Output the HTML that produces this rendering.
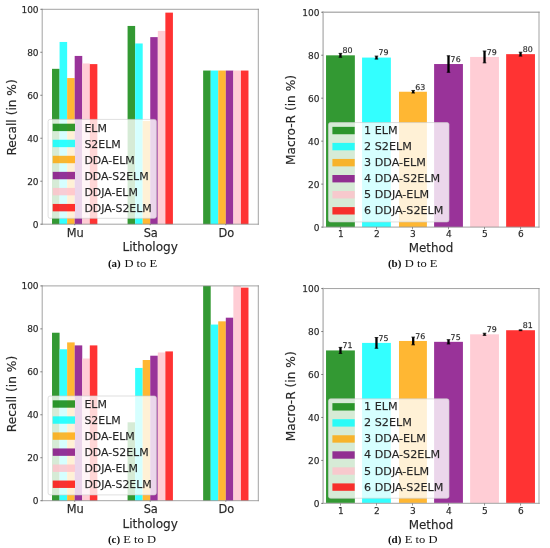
<!DOCTYPE html>
<html><head><meta charset="utf-8"><title>Figure</title>
<style>
html,body{margin:0;padding:0;background:#fff;}
svg{display:block;font-family:"DejaVu Sans","Liberation Sans",sans-serif;fill:#262626;}
svg text{stroke:#262626;stroke-width:0.25px;stroke-opacity:0.6;}
svg text.cap{stroke:none;fill:#111;}
</style></head><body>
<svg width="550" height="548" viewBox="0 0 550 548">
<rect width="550" height="548" fill="#fff"/>
<rect x="52.02" y="68.83" width="7.56" height="155.37" fill="#339933"/>
<rect x="59.58" y="41.96" width="7.56" height="182.24" fill="#33ffff"/>
<rect x="67.13" y="78.07" width="7.56" height="146.13" fill="#ffb733"/>
<rect x="74.69" y="55.93" width="7.56" height="168.27" fill="#993399"/>
<rect x="82.25" y="63.45" width="7.56" height="160.75" fill="#ffcdd5"/>
<rect x="89.8" y="64.1" width="7.56" height="160.1" fill="#ff3333"/>
<rect x="127.58" y="25.95" width="7.56" height="198.25" fill="#339933"/>
<rect x="135.14" y="43.47" width="7.56" height="180.73" fill="#33ffff"/>
<rect x="142.69" y="121.05" width="7.56" height="103.15" fill="#ffb733"/>
<rect x="150.25" y="37.13" width="7.56" height="187.07" fill="#993399"/>
<rect x="157.81" y="30.9" width="7.56" height="193.3" fill="#ffcdd5"/>
<rect x="165.36" y="12.63" width="7.56" height="211.57" fill="#ff3333"/>
<rect x="203.14" y="70.55" width="7.56" height="153.65" fill="#339933"/>
<rect x="210.7" y="70.55" width="7.56" height="153.65" fill="#33ffff"/>
<rect x="218.25" y="70.55" width="7.56" height="153.65" fill="#ffb733"/>
<rect x="225.81" y="70.55" width="7.56" height="153.65" fill="#993399"/>
<rect x="233.37" y="70.55" width="7.56" height="153.65" fill="#ffcdd5"/>
<rect x="240.92" y="70.55" width="7.56" height="153.65" fill="#ff3333"/>
<rect x="48.1" y="119.4" width="108.3" height="98.9" rx="2" ry="2" fill="#fff" fill-opacity="0.8" stroke="#ccc" stroke-opacity="0.8" stroke-width="0.8"/>
<rect x="52.7" y="123.7" width="22.3" height="7.4" fill="#008000" fill-opacity="0.8"/>
<text x="84.4" y="131.6" font-size="10.95">ELM</text>
<rect x="52.7" y="139.75" width="22.3" height="7.4" fill="#00ffff" fill-opacity="0.8"/>
<text x="84.4" y="147.65" font-size="10.95">S2ELM</text>
<rect x="52.7" y="155.8" width="22.3" height="7.4" fill="#ffa500" fill-opacity="0.8"/>
<text x="84.4" y="163.7" font-size="10.95">DDA-ELM</text>
<rect x="52.7" y="171.85" width="22.3" height="7.4" fill="#800080" fill-opacity="0.8"/>
<text x="84.4" y="179.75" font-size="10.95">DDA-S2ELM</text>
<rect x="52.7" y="187.9" width="22.3" height="7.4" fill="#ffc0cb" fill-opacity="0.8"/>
<text x="84.4" y="195.8" font-size="10.95">DDJA-ELM</text>
<rect x="52.7" y="203.95" width="22.3" height="7.4" fill="#ff0000" fill-opacity="0.8"/>
<text x="84.4" y="211.85" font-size="10.95">DDJA-S2ELM</text>
<line x1="42.2" y1="9.3" x2="258.3" y2="9.3" stroke="#8c8c8c" stroke-width="0.8" stroke-linecap="square"/>
<line x1="42.2" y1="224.2" x2="258.3" y2="224.2" stroke="#8c8c8c" stroke-width="0.8" stroke-linecap="square"/>
<line x1="42.2" y1="9.3" x2="42.2" y2="224.2" stroke="#8c8c8c" stroke-width="0.8" stroke-linecap="square"/>
<line x1="258.3" y1="9.3" x2="258.3" y2="224.2" stroke="#8c8c8c" stroke-width="0.8" stroke-linecap="square"/>
<line x1="40.3" x2="42.2" y1="224.2" y2="224.2" stroke="#555" stroke-width="0.7"/>
<text x="38.6" y="227.73" font-size="9.0" text-anchor="end">0</text>
<line x1="40.3" x2="42.2" y1="181.22" y2="181.22" stroke="#555" stroke-width="0.7"/>
<text x="38.6" y="184.75" font-size="9.0" text-anchor="end">20</text>
<line x1="40.3" x2="42.2" y1="138.24" y2="138.24" stroke="#555" stroke-width="0.7"/>
<text x="38.6" y="141.78" font-size="9.0" text-anchor="end">40</text>
<line x1="40.3" x2="42.2" y1="95.26" y2="95.26" stroke="#555" stroke-width="0.7"/>
<text x="38.6" y="98.8" font-size="9.0" text-anchor="end">60</text>
<line x1="40.3" x2="42.2" y1="52.28" y2="52.28" stroke="#555" stroke-width="0.7"/>
<text x="38.6" y="55.81" font-size="9.0" text-anchor="end">80</text>
<line x1="40.3" x2="42.2" y1="9.3" y2="9.3" stroke="#555" stroke-width="0.7"/>
<text x="38.6" y="12.84" font-size="9.0" text-anchor="end">100</text>
<line x1="74.69" x2="74.69" y1="224.2" y2="225.2" stroke="#555" stroke-width="0.7"/>
<text x="75.19" y="236.5" font-size="11.4" text-anchor="middle">Mu</text>
<line x1="150.25" x2="150.25" y1="224.2" y2="225.2" stroke="#555" stroke-width="0.7"/>
<text x="150.75" y="236.5" font-size="11.4" text-anchor="middle">Sa</text>
<line x1="225.81" x2="225.81" y1="224.2" y2="225.2" stroke="#555" stroke-width="0.7"/>
<text x="226.31" y="236.5" font-size="11.4" text-anchor="middle">Do</text>
<text x="150.2" y="251.3" font-size="12.1" text-anchor="middle">Lithology</text>
<text transform="translate(15.9 117.45) rotate(-90)" font-size="12.2" text-anchor="middle">Recall (in %)</text>
<text x="107.9" y="266.9" font-size="11.0" font-family="'Liberation Serif','DejaVu Serif',serif" class="cap" font-weight="bold">(a)</text>
<text transform="translate(124.4 266.9) scale(1.14 1)" font-size="11.0" font-family="'Liberation Serif','DejaVu Serif',serif" class="cap">D to E</text>
<rect x="326.04" y="55.33" width="28.82" height="171.77" fill="#339933"/>
<rect x="362.06" y="57.58" width="28.82" height="169.52" fill="#33ffff"/>
<rect x="398.98" y="91.74" width="27.92" height="135.36" fill="#ffb733"/>
<rect x="434.1" y="64.03" width="28.82" height="163.07" fill="#993399"/>
<rect x="470.12" y="56.94" width="28.82" height="170.16" fill="#ffcdd5"/>
<rect x="506.14" y="54.15" width="28.82" height="172.95" fill="#ff3333"/>
<line x1="340.45" x2="340.45" y1="53.39" y2="57.26" stroke="#000" stroke-width="2.3"/>
<line x1="338.65" x2="342.25" y1="53.39" y2="53.39" stroke="#000" stroke-width="0.8"/>
<line x1="338.65" x2="342.25" y1="57.26" y2="57.26" stroke="#000" stroke-width="0.8"/>
<text x="342.55" y="53.13" font-size="7.9">80</text>
<line x1="376.47" x2="376.47" y1="56.08" y2="59.09" stroke="#000" stroke-width="2.3"/>
<line x1="374.67" x2="378.27" y1="56.08" y2="56.08" stroke="#000" stroke-width="0.8"/>
<line x1="374.67" x2="378.27" y1="59.09" y2="59.09" stroke="#000" stroke-width="0.8"/>
<text x="378.57" y="55.38" font-size="7.9">79</text>
<line x1="413.19" x2="413.19" y1="90.46" y2="93.03" stroke="#000" stroke-width="2.3"/>
<line x1="411.39" x2="414.99" y1="90.46" y2="90.46" stroke="#000" stroke-width="0.8"/>
<line x1="411.39" x2="414.99" y1="93.03" y2="93.03" stroke="#000" stroke-width="0.8"/>
<text x="415.29" y="89.54" font-size="7.9">63</text>
<line x1="448.51" x2="448.51" y1="55.76" y2="72.3" stroke="#000" stroke-width="2.3"/>
<line x1="446.71" x2="450.31" y1="55.76" y2="55.76" stroke="#000" stroke-width="0.8"/>
<line x1="446.71" x2="450.31" y1="72.3" y2="72.3" stroke="#000" stroke-width="0.8"/>
<text x="450.61" y="61.83" font-size="7.9">76</text>
<line x1="484.53" x2="484.53" y1="51.03" y2="62.85" stroke="#000" stroke-width="2.3"/>
<line x1="482.73" x2="486.33" y1="51.03" y2="51.03" stroke="#000" stroke-width="0.8"/>
<line x1="482.73" x2="486.33" y1="62.85" y2="62.85" stroke="#000" stroke-width="0.8"/>
<text x="486.63" y="54.74" font-size="7.9">79</text>
<line x1="520.55" x2="520.55" y1="52.21" y2="56.08" stroke="#000" stroke-width="2.3"/>
<line x1="518.75" x2="522.35" y1="52.21" y2="52.21" stroke="#000" stroke-width="0.8"/>
<line x1="518.75" x2="522.35" y1="56.08" y2="56.08" stroke="#000" stroke-width="0.8"/>
<text x="522.65" y="51.95" font-size="7.9">80</text>
<rect x="328.5" y="122.55" width="120.5" height="99.4" rx="2" ry="2" fill="#fff" fill-opacity="0.8" stroke="#ccc" stroke-opacity="0.8" stroke-width="0.8"/>
<rect x="332.4" y="126.85" width="22.3" height="7.4" fill="#008000" fill-opacity="0.8"/>
<text x="364.1" y="134.02" font-size="11.15">1 ELM</text>
<rect x="332.4" y="142.9" width="22.3" height="7.4" fill="#00ffff" fill-opacity="0.8"/>
<text x="364.1" y="150.07" font-size="11.15">2 S2ELM</text>
<rect x="332.4" y="158.95" width="22.3" height="7.4" fill="#ffa500" fill-opacity="0.8"/>
<text x="364.1" y="166.12" font-size="11.15">3 DDA-ELM</text>
<rect x="332.4" y="175" width="22.3" height="7.4" fill="#800080" fill-opacity="0.8"/>
<text x="364.1" y="182.17" font-size="11.15">4 DDA-S2ELM</text>
<rect x="332.4" y="191.05" width="22.3" height="7.4" fill="#ffc0cb" fill-opacity="0.8"/>
<text x="364.1" y="198.22" font-size="11.15">5 DDJA-ELM</text>
<rect x="332.4" y="207.1" width="22.3" height="7.4" fill="#ff0000" fill-opacity="0.8"/>
<text x="364.1" y="214.27" font-size="11.15">6 DDJA-S2ELM</text>
<line x1="323.1" y1="12.25" x2="539" y2="12.25" stroke="#b4b4b4" stroke-width="1.4" stroke-linecap="square"/>
<line x1="323.1" y1="227.1" x2="539" y2="227.1" stroke="#999" stroke-width="0.9" stroke-linecap="square"/>
<line x1="323.1" y1="12.25" x2="323.1" y2="227.1" stroke="#b4b4b4" stroke-width="1.4" stroke-linecap="square"/>
<line x1="539" y1="12.25" x2="539" y2="227.1" stroke="#999" stroke-width="0.9" stroke-linecap="square"/>
<line x1="321.2" x2="323.1" y1="227.1" y2="227.1" stroke="#555" stroke-width="0.7"/>
<text x="319.5" y="230.63" font-size="9.0" text-anchor="end">0</text>
<line x1="321.2" x2="323.1" y1="184.13" y2="184.13" stroke="#555" stroke-width="0.7"/>
<text x="319.5" y="187.66" font-size="9.0" text-anchor="end">20</text>
<line x1="321.2" x2="323.1" y1="141.16" y2="141.16" stroke="#555" stroke-width="0.7"/>
<text x="319.5" y="144.69" font-size="9.0" text-anchor="end">40</text>
<line x1="321.2" x2="323.1" y1="98.19" y2="98.19" stroke="#555" stroke-width="0.7"/>
<text x="319.5" y="101.72" font-size="9.0" text-anchor="end">60</text>
<line x1="321.2" x2="323.1" y1="55.22" y2="55.22" stroke="#555" stroke-width="0.7"/>
<text x="319.5" y="58.75" font-size="9.0" text-anchor="end">80</text>
<line x1="321.2" x2="323.1" y1="12.25" y2="12.25" stroke="#555" stroke-width="0.7"/>
<text x="319.5" y="15.79" font-size="9.0" text-anchor="end">100</text>
<line x1="340.45" x2="340.45" y1="227.1" y2="229.3" stroke="#666" stroke-width="0.7"/>
<text x="340.75" y="237.4" font-size="9.0" text-anchor="middle">1</text>
<line x1="376.47" x2="376.47" y1="227.1" y2="229.3" stroke="#666" stroke-width="0.7"/>
<text x="376.77" y="237.4" font-size="9.0" text-anchor="middle">2</text>
<line x1="412.49" x2="412.49" y1="227.1" y2="229.3" stroke="#666" stroke-width="0.7"/>
<text x="412.79" y="237.4" font-size="9.0" text-anchor="middle">3</text>
<line x1="448.51" x2="448.51" y1="227.1" y2="229.3" stroke="#666" stroke-width="0.7"/>
<text x="448.81" y="237.4" font-size="9.0" text-anchor="middle">4</text>
<line x1="484.53" x2="484.53" y1="227.1" y2="229.3" stroke="#666" stroke-width="0.7"/>
<text x="484.83" y="237.4" font-size="9.0" text-anchor="middle">5</text>
<line x1="520.55" x2="520.55" y1="227.1" y2="229.3" stroke="#666" stroke-width="0.7"/>
<text x="520.85" y="237.4" font-size="9.0" text-anchor="middle">6</text>
<text x="431" y="252.3" font-size="11.9" text-anchor="middle">Method</text>
<text transform="translate(295.4 119.97) rotate(-90)" font-size="12.2" text-anchor="middle">Macro-R (in %)</text>
<text x="387.9" y="266.9" font-size="11.0" font-family="'Liberation Serif','DejaVu Serif',serif" class="cap" font-weight="bold">(b)</text>
<text transform="translate(404.8 266.9) scale(1.14 1)" font-size="11.0" font-family="'Liberation Serif','DejaVu Serif',serif" class="cap">D to E</text>
<rect x="52.02" y="332.73" width="7.56" height="167.97" fill="#339933"/>
<rect x="59.58" y="349.27" width="7.56" height="151.43" fill="#33ffff"/>
<rect x="67.13" y="342.39" width="7.56" height="158.31" fill="#ffb733"/>
<rect x="74.69" y="345.4" width="7.56" height="155.3" fill="#993399"/>
<rect x="82.25" y="358.5" width="7.56" height="142.2" fill="#ffcdd5"/>
<rect x="89.8" y="345.4" width="7.56" height="155.3" fill="#ff3333"/>
<rect x="127.58" y="422.3" width="7.56" height="78.4" fill="#339933"/>
<rect x="135.14" y="367.95" width="7.56" height="132.75" fill="#33ffff"/>
<rect x="142.69" y="360.01" width="7.56" height="140.69" fill="#ffb733"/>
<rect x="150.25" y="355.71" width="7.56" height="144.99" fill="#993399"/>
<rect x="157.81" y="352.49" width="7.56" height="148.21" fill="#ffcdd5"/>
<rect x="165.36" y="351.41" width="7.56" height="149.29" fill="#ff3333"/>
<rect x="203.14" y="285.9" width="7.56" height="214.8" fill="#339933"/>
<rect x="210.7" y="324.56" width="7.56" height="176.14" fill="#33ffff"/>
<rect x="218.25" y="321.34" width="7.56" height="179.36" fill="#ffb733"/>
<rect x="225.81" y="317.69" width="7.56" height="183.01" fill="#993399"/>
<rect x="233.37" y="285.9" width="7.56" height="214.8" fill="#ffcdd5"/>
<rect x="240.92" y="287.62" width="7.56" height="213.08" fill="#ff3333"/>
<rect x="48.1" y="396" width="108.3" height="98.9" rx="2" ry="2" fill="#fff" fill-opacity="0.8" stroke="#ccc" stroke-opacity="0.8" stroke-width="0.8"/>
<rect x="52.7" y="400.3" width="22.3" height="7.4" fill="#008000" fill-opacity="0.8"/>
<text x="84.4" y="408.2" font-size="10.95">ELM</text>
<rect x="52.7" y="416.35" width="22.3" height="7.4" fill="#00ffff" fill-opacity="0.8"/>
<text x="84.4" y="424.25" font-size="10.95">S2ELM</text>
<rect x="52.7" y="432.4" width="22.3" height="7.4" fill="#ffa500" fill-opacity="0.8"/>
<text x="84.4" y="440.3" font-size="10.95">DDA-ELM</text>
<rect x="52.7" y="448.45" width="22.3" height="7.4" fill="#800080" fill-opacity="0.8"/>
<text x="84.4" y="456.35" font-size="10.95">DDA-S2ELM</text>
<rect x="52.7" y="464.5" width="22.3" height="7.4" fill="#ffc0cb" fill-opacity="0.8"/>
<text x="84.4" y="472.4" font-size="10.95">DDJA-ELM</text>
<rect x="52.7" y="480.55" width="22.3" height="7.4" fill="#ff0000" fill-opacity="0.8"/>
<text x="84.4" y="488.45" font-size="10.95">DDJA-S2ELM</text>
<line x1="42.2" y1="285.9" x2="258.3" y2="285.9" stroke="#8c8c8c" stroke-width="0.8" stroke-linecap="square"/>
<line x1="42.2" y1="500.7" x2="258.3" y2="500.7" stroke="#8c8c8c" stroke-width="0.8" stroke-linecap="square"/>
<line x1="42.2" y1="285.9" x2="42.2" y2="500.7" stroke="#8c8c8c" stroke-width="0.8" stroke-linecap="square"/>
<line x1="258.3" y1="285.9" x2="258.3" y2="500.7" stroke="#8c8c8c" stroke-width="0.8" stroke-linecap="square"/>
<line x1="40.3" x2="42.2" y1="500.7" y2="500.7" stroke="#555" stroke-width="0.7"/>
<text x="38.6" y="504.24" font-size="9.0" text-anchor="end">0</text>
<line x1="40.3" x2="42.2" y1="457.74" y2="457.74" stroke="#555" stroke-width="0.7"/>
<text x="38.6" y="461.28" font-size="9.0" text-anchor="end">20</text>
<line x1="40.3" x2="42.2" y1="414.78" y2="414.78" stroke="#555" stroke-width="0.7"/>
<text x="38.6" y="418.31" font-size="9.0" text-anchor="end">40</text>
<line x1="40.3" x2="42.2" y1="371.82" y2="371.82" stroke="#555" stroke-width="0.7"/>
<text x="38.6" y="375.36" font-size="9.0" text-anchor="end">60</text>
<line x1="40.3" x2="42.2" y1="328.86" y2="328.86" stroke="#555" stroke-width="0.7"/>
<text x="38.6" y="332.4" font-size="9.0" text-anchor="end">80</text>
<line x1="40.3" x2="42.2" y1="285.9" y2="285.9" stroke="#555" stroke-width="0.7"/>
<text x="38.6" y="289.44" font-size="9.0" text-anchor="end">100</text>
<line x1="74.69" x2="74.69" y1="500.7" y2="501.7" stroke="#555" stroke-width="0.7"/>
<text x="75.19" y="513" font-size="11.4" text-anchor="middle">Mu</text>
<line x1="150.25" x2="150.25" y1="500.7" y2="501.7" stroke="#555" stroke-width="0.7"/>
<text x="150.75" y="513" font-size="11.4" text-anchor="middle">Sa</text>
<line x1="225.81" x2="225.81" y1="500.7" y2="501.7" stroke="#555" stroke-width="0.7"/>
<text x="226.31" y="513" font-size="11.4" text-anchor="middle">Do</text>
<text x="150.2" y="527.8" font-size="12.1" text-anchor="middle">Lithology</text>
<text transform="translate(15.9 394) rotate(-90)" font-size="12.2" text-anchor="middle">Recall (in %)</text>
<text x="107.9" y="543.2" font-size="11.0" font-family="'Liberation Serif','DejaVu Serif',serif" class="cap" font-weight="bold">(c)</text>
<text transform="translate(123.3 543.2) scale(1.14 1)" font-size="11.0" font-family="'Liberation Serif','DejaVu Serif',serif" class="cap">E to D</text>
<rect x="326.04" y="350.43" width="28.82" height="152.97" fill="#339933"/>
<rect x="362.06" y="342.91" width="28.82" height="160.49" fill="#33ffff"/>
<rect x="398.98" y="340.97" width="27.92" height="162.43" fill="#ffb733"/>
<rect x="434.1" y="341.83" width="28.82" height="161.57" fill="#993399"/>
<rect x="470.12" y="334.31" width="28.82" height="169.09" fill="#ffcdd5"/>
<rect x="506.14" y="330.23" width="28.82" height="173.17" fill="#ff3333"/>
<line x1="340.45" x2="340.45" y1="347.42" y2="353.43" stroke="#000" stroke-width="2.3"/>
<line x1="338.65" x2="342.25" y1="347.42" y2="347.42" stroke="#000" stroke-width="0.8"/>
<line x1="338.65" x2="342.25" y1="353.43" y2="353.43" stroke="#000" stroke-width="0.8"/>
<text x="342.55" y="348.23" font-size="7.9">71</text>
<line x1="376.47" x2="376.47" y1="337.54" y2="348.28" stroke="#000" stroke-width="2.3"/>
<line x1="374.67" x2="378.27" y1="337.54" y2="337.54" stroke="#000" stroke-width="0.8"/>
<line x1="374.67" x2="378.27" y1="348.28" y2="348.28" stroke="#000" stroke-width="0.8"/>
<text x="378.57" y="340.71" font-size="7.9">75</text>
<line x1="413.19" x2="413.19" y1="337.11" y2="344.84" stroke="#000" stroke-width="2.3"/>
<line x1="411.39" x2="414.99" y1="337.11" y2="337.11" stroke="#000" stroke-width="0.8"/>
<line x1="411.39" x2="414.99" y1="344.84" y2="344.84" stroke="#000" stroke-width="0.8"/>
<text x="415.29" y="338.77" font-size="7.9">76</text>
<line x1="448.51" x2="448.51" y1="339.68" y2="343.98" stroke="#000" stroke-width="2.3"/>
<line x1="446.71" x2="450.31" y1="339.68" y2="339.68" stroke="#000" stroke-width="0.8"/>
<line x1="446.71" x2="450.31" y1="343.98" y2="343.98" stroke="#000" stroke-width="0.8"/>
<text x="450.61" y="339.63" font-size="7.9">75</text>
<line x1="484.53" x2="484.53" y1="333.24" y2="335.39" stroke="#000" stroke-width="2.3"/>
<line x1="482.73" x2="486.33" y1="333.24" y2="333.24" stroke="#000" stroke-width="0.8"/>
<line x1="482.73" x2="486.33" y1="335.39" y2="335.39" stroke="#000" stroke-width="0.8"/>
<text x="486.63" y="332.11" font-size="7.9">79</text>
<line x1="520.55" x2="520.55" y1="329.8" y2="330.66" stroke="#000" stroke-width="2.3"/>
<line x1="518.75" x2="522.35" y1="329.8" y2="329.8" stroke="#000" stroke-width="0.8"/>
<line x1="518.75" x2="522.35" y1="330.66" y2="330.66" stroke="#000" stroke-width="0.8"/>
<text x="522.65" y="328.03" font-size="7.9">81</text>
<rect x="328.5" y="398.85" width="120.5" height="99.4" rx="2" ry="2" fill="#fff" fill-opacity="0.8" stroke="#ccc" stroke-opacity="0.8" stroke-width="0.8"/>
<rect x="332.4" y="403.15" width="22.3" height="7.4" fill="#008000" fill-opacity="0.8"/>
<text x="364.1" y="410.32" font-size="11.15">1 ELM</text>
<rect x="332.4" y="419.2" width="22.3" height="7.4" fill="#00ffff" fill-opacity="0.8"/>
<text x="364.1" y="426.37" font-size="11.15">2 S2ELM</text>
<rect x="332.4" y="435.25" width="22.3" height="7.4" fill="#ffa500" fill-opacity="0.8"/>
<text x="364.1" y="442.42" font-size="11.15">3 DDA-ELM</text>
<rect x="332.4" y="451.3" width="22.3" height="7.4" fill="#800080" fill-opacity="0.8"/>
<text x="364.1" y="458.47" font-size="11.15">4 DDA-S2ELM</text>
<rect x="332.4" y="467.35" width="22.3" height="7.4" fill="#ffc0cb" fill-opacity="0.8"/>
<text x="364.1" y="474.52" font-size="11.15">5 DDJA-ELM</text>
<rect x="332.4" y="483.4" width="22.3" height="7.4" fill="#ff0000" fill-opacity="0.8"/>
<text x="364.1" y="490.57" font-size="11.15">6 DDJA-S2ELM</text>
<line x1="323.1" y1="288.55" x2="539" y2="288.55" stroke="#999" stroke-width="0.9" stroke-linecap="square"/>
<line x1="323.1" y1="503.4" x2="539" y2="503.4" stroke="#b4b4b4" stroke-width="1.4" stroke-linecap="square"/>
<line x1="323.1" y1="288.55" x2="323.1" y2="503.4" stroke="#b4b4b4" stroke-width="1.4" stroke-linecap="square"/>
<line x1="539" y1="288.55" x2="539" y2="503.4" stroke="#999" stroke-width="0.9" stroke-linecap="square"/>
<line x1="321.2" x2="323.1" y1="503.4" y2="503.4" stroke="#555" stroke-width="0.7"/>
<text x="319.5" y="506.94" font-size="9.0" text-anchor="end">0</text>
<line x1="321.2" x2="323.1" y1="460.43" y2="460.43" stroke="#555" stroke-width="0.7"/>
<text x="319.5" y="463.97" font-size="9.0" text-anchor="end">20</text>
<line x1="321.2" x2="323.1" y1="417.46" y2="417.46" stroke="#555" stroke-width="0.7"/>
<text x="319.5" y="421" font-size="9.0" text-anchor="end">40</text>
<line x1="321.2" x2="323.1" y1="374.49" y2="374.49" stroke="#555" stroke-width="0.7"/>
<text x="319.5" y="378.03" font-size="9.0" text-anchor="end">60</text>
<line x1="321.2" x2="323.1" y1="331.52" y2="331.52" stroke="#555" stroke-width="0.7"/>
<text x="319.5" y="335.06" font-size="9.0" text-anchor="end">80</text>
<line x1="321.2" x2="323.1" y1="288.55" y2="288.55" stroke="#555" stroke-width="0.7"/>
<text x="319.5" y="292.09" font-size="9.0" text-anchor="end">100</text>
<line x1="340.45" x2="340.45" y1="503.4" y2="505.6" stroke="#666" stroke-width="0.7"/>
<text x="340.75" y="513.7" font-size="9.0" text-anchor="middle">1</text>
<line x1="376.47" x2="376.47" y1="503.4" y2="505.6" stroke="#666" stroke-width="0.7"/>
<text x="376.77" y="513.7" font-size="9.0" text-anchor="middle">2</text>
<line x1="412.49" x2="412.49" y1="503.4" y2="505.6" stroke="#666" stroke-width="0.7"/>
<text x="412.79" y="513.7" font-size="9.0" text-anchor="middle">3</text>
<line x1="448.51" x2="448.51" y1="503.4" y2="505.6" stroke="#666" stroke-width="0.7"/>
<text x="448.81" y="513.7" font-size="9.0" text-anchor="middle">4</text>
<line x1="484.53" x2="484.53" y1="503.4" y2="505.6" stroke="#666" stroke-width="0.7"/>
<text x="484.83" y="513.7" font-size="9.0" text-anchor="middle">5</text>
<line x1="520.55" x2="520.55" y1="503.4" y2="505.6" stroke="#666" stroke-width="0.7"/>
<text x="520.85" y="513.7" font-size="9.0" text-anchor="middle">6</text>
<text x="431" y="528.6" font-size="11.9" text-anchor="middle">Method</text>
<text transform="translate(295.4 396.28) rotate(-90)" font-size="12.2" text-anchor="middle">Macro-R (in %)</text>
<text x="387.9" y="543.2" font-size="11.0" font-family="'Liberation Serif','DejaVu Serif',serif" class="cap" font-weight="bold">(d)</text>
<text transform="translate(404.8 543.2) scale(1.14 1)" font-size="11.0" font-family="'Liberation Serif','DejaVu Serif',serif" class="cap">E to D</text>
</svg>
</body></html>
